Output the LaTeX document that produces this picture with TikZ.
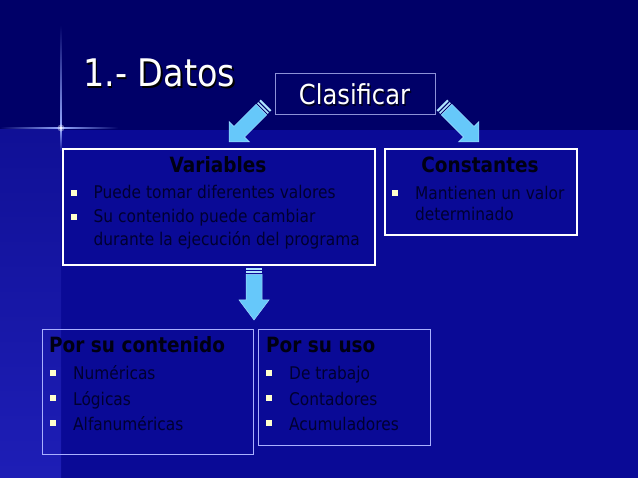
\documentclass[tikz,border=0pt]{standalone}
\usepackage{fontspec}
\setmainfont{DejaVu Sans}[FakeStretch=0.88]
\definecolor{bgtop}{RGB}{0,0,104}
\definecolor{bglow}{RGB}{10,10,150}
\definecolor{stripA}{RGB}{16,16,150}
\definecolor{stripB}{RGB}{30,30,182}
\definecolor{lav}{RGB}{170,176,255}
\definecolor{clasline}{RGB}{140,145,215}
\definecolor{bodycol}{RGB}{0,0,48}
\definecolor{titlecol}{RGB}{0,0,18}
\definecolor{bulcol}{RGB}{255,255,204}
\definecolor{arrfill}{RGB}{102,200,250}
\definecolor{arrstripe}{RGB}{175,228,255}
\definecolor{arrline}{RGB}{165,220,255}
\definecolor{glow}{RGB}{150,170,255}
\newcommand\blkarrow[6]{% tail, angle, L, w, W, h
  \begin{scope}[shift={(#1)}, rotate=#2]
    \fill[arrstripe] (0,-#4/2) rectangle (2,#4/2);
    \fill[arrstripe] (3.5,-#4/2) rectangle (5,#4/2);
    \filldraw[fill=arrfill, draw=arrline, line width=0.5pt]
      (6.5,-#4/2) -- ({#3-#6},-#4/2) -- ({#3-#6},-#5/2) -- (#3,0)
      -- ({#3-#6},#5/2) -- ({#3-#6},#4/2) -- (6.5,#4/2) -- cycle;
  \end{scope}}
% text with a drop shadow, in one box
\newcommand\shadowtxt[3]{\rlap{\kern#2\raisebox{-#2}{\color{#3}#1}}#1}
\begin{document}
\begin{tikzpicture}[x=1pt,y=-1pt,
  bigbox/.style={draw=white, line width=2.4pt, inner sep=0pt, anchor=north west},
  thinbox/.style={draw=lav, line width=1.1pt, inner sep=0pt, anchor=north west},
  headtxt/.style={font=\bfseries\fontsize{21}{25}\selectfont, text=titlecol, inner sep=0pt},
  itemtxt/.style={font=\fontsize{17.5}{21}\selectfont, text=bodycol, inner sep=0pt, anchor=base west},
  bul/.style={fill=bulcol, shape=rectangle, minimum size=6.5pt, inner sep=0pt}]
\useasboundingbox (0,0) rectangle (638,478);
% background
\fill[bglow] (0,0) rectangle (638,478);
\fill[bgtop] (0,0) rectangle (638,130);
\shade[top color=stripA, bottom color=stripB] (0,130) rectangle (61,478);
% cross decoration
\shade[left color=bgtop, right color=glow] (0,127.3) rectangle (61,128.7);
\shade[left color=glow, right color=bgtop] (61,127.3) rectangle (118,128.7);
\shade[top color=bgtop, bottom color=glow] (60.3,25) rectangle (61.7,128);
\shade[top color=glow, bottom color=bglow] (60.3,128) rectangle (61.7,152);
\fill[white, opacity=0.35] (61,128) circle (3.5);
\fill[white] (61,128) circle (1.3);
% title
\node[font=\fontsize{38}{44}\selectfont, text=white, inner sep=0pt, anchor=base west] (title) at (83,87) {\shadowtxt{1.- Datos}{1.5pt}{black}};
% Clasificar
\node[draw=clasline, line width=0.8pt, inner sep=0pt, anchor=north west, minimum width=160pt, minimum height=41pt] (clas) at (275,73) {};
\node[font=\fontsize{27.5}{32}\selectfont, text=white, inner sep=0pt, anchor=base] (clastxt) at (354.5,105) {\shadowtxt{Clasificar}{1.3pt}{black!70!bgtop}};
% boxes
\node[bigbox, minimum width=312pt, minimum height=116pt] (var) at (62,148) {};
\node[bigbox, minimum width=192pt, minimum height=86pt] (const) at (384,148) {};
\node[thinbox, minimum width=211pt, minimum height=125pt] (cont) at (42,329) {};
\node[thinbox, minimum width=172pt, minimum height=116pt] (uso) at (258,329) {};
% arrows
\coordinate (la) at (266,105);
\coordinate (ra) at (442,105);
\coordinate (da) at (254,268);
\blkarrow{la}{-135}{52.3}{15}{29}{14.5}
\blkarrow{ra}{-45}{52.3}{15}{29}{14.5}
\blkarrow{da}{-90}{52}{16}{30}{20}
% Variables
\node[headtxt, anchor=base] (varh) at (218,173) {Variables};
\node[bul] (vb1) at (74,193) {};
\node[itemtxt] (v1) at (93.5,199) {Puede tomar diferentes valores};
\node[bul] (vb2) at (74,217) {};
\node[itemtxt] (v2) at (93.5,223) {Su contenido puede cambiar};
\node[itemtxt] (v3) at (93.5,246) {durante la ejecución del programa};
% Constantes
\node[headtxt, anchor=base] (consth) at (480,173) {Constantes};
\node[bul] (cb1) at (395,193) {};
\node[itemtxt] (c1) at (415,200) {Mantienen un valor};
\node[itemtxt] (c2) at (415,221) {determinado};
% Por su contenido
\node[headtxt, anchor=base west] (conth) at (49,353) {Por su contenido};
\node[bul] (pb1) at (53,373) {};
\node[itemtxt] (p1) at (73,380) {Numéricas};
\node[bul] (pb2) at (53,398) {};
\node[itemtxt] (p2) at (73,405.5) {Lógicas};
\node[bul] (pb3) at (53,423) {};
\node[itemtxt] (p3) at (73,431) {Alfanuméricas};
% Por su uso
\node[headtxt, anchor=base west] (usoh) at (266,353) {Por su uso};
\node[bul] (ub1) at (269,373) {};
\node[itemtxt] (u1) at (289,380) {De trabajo};
\node[bul] (ub2) at (269,398) {};
\node[itemtxt] (u2) at (289,405.5) {Contadores};
\node[bul] (ub3) at (269,423) {};
\node[itemtxt] (u3) at (289,431) {Acumuladores};
\end{tikzpicture}
\end{document}
